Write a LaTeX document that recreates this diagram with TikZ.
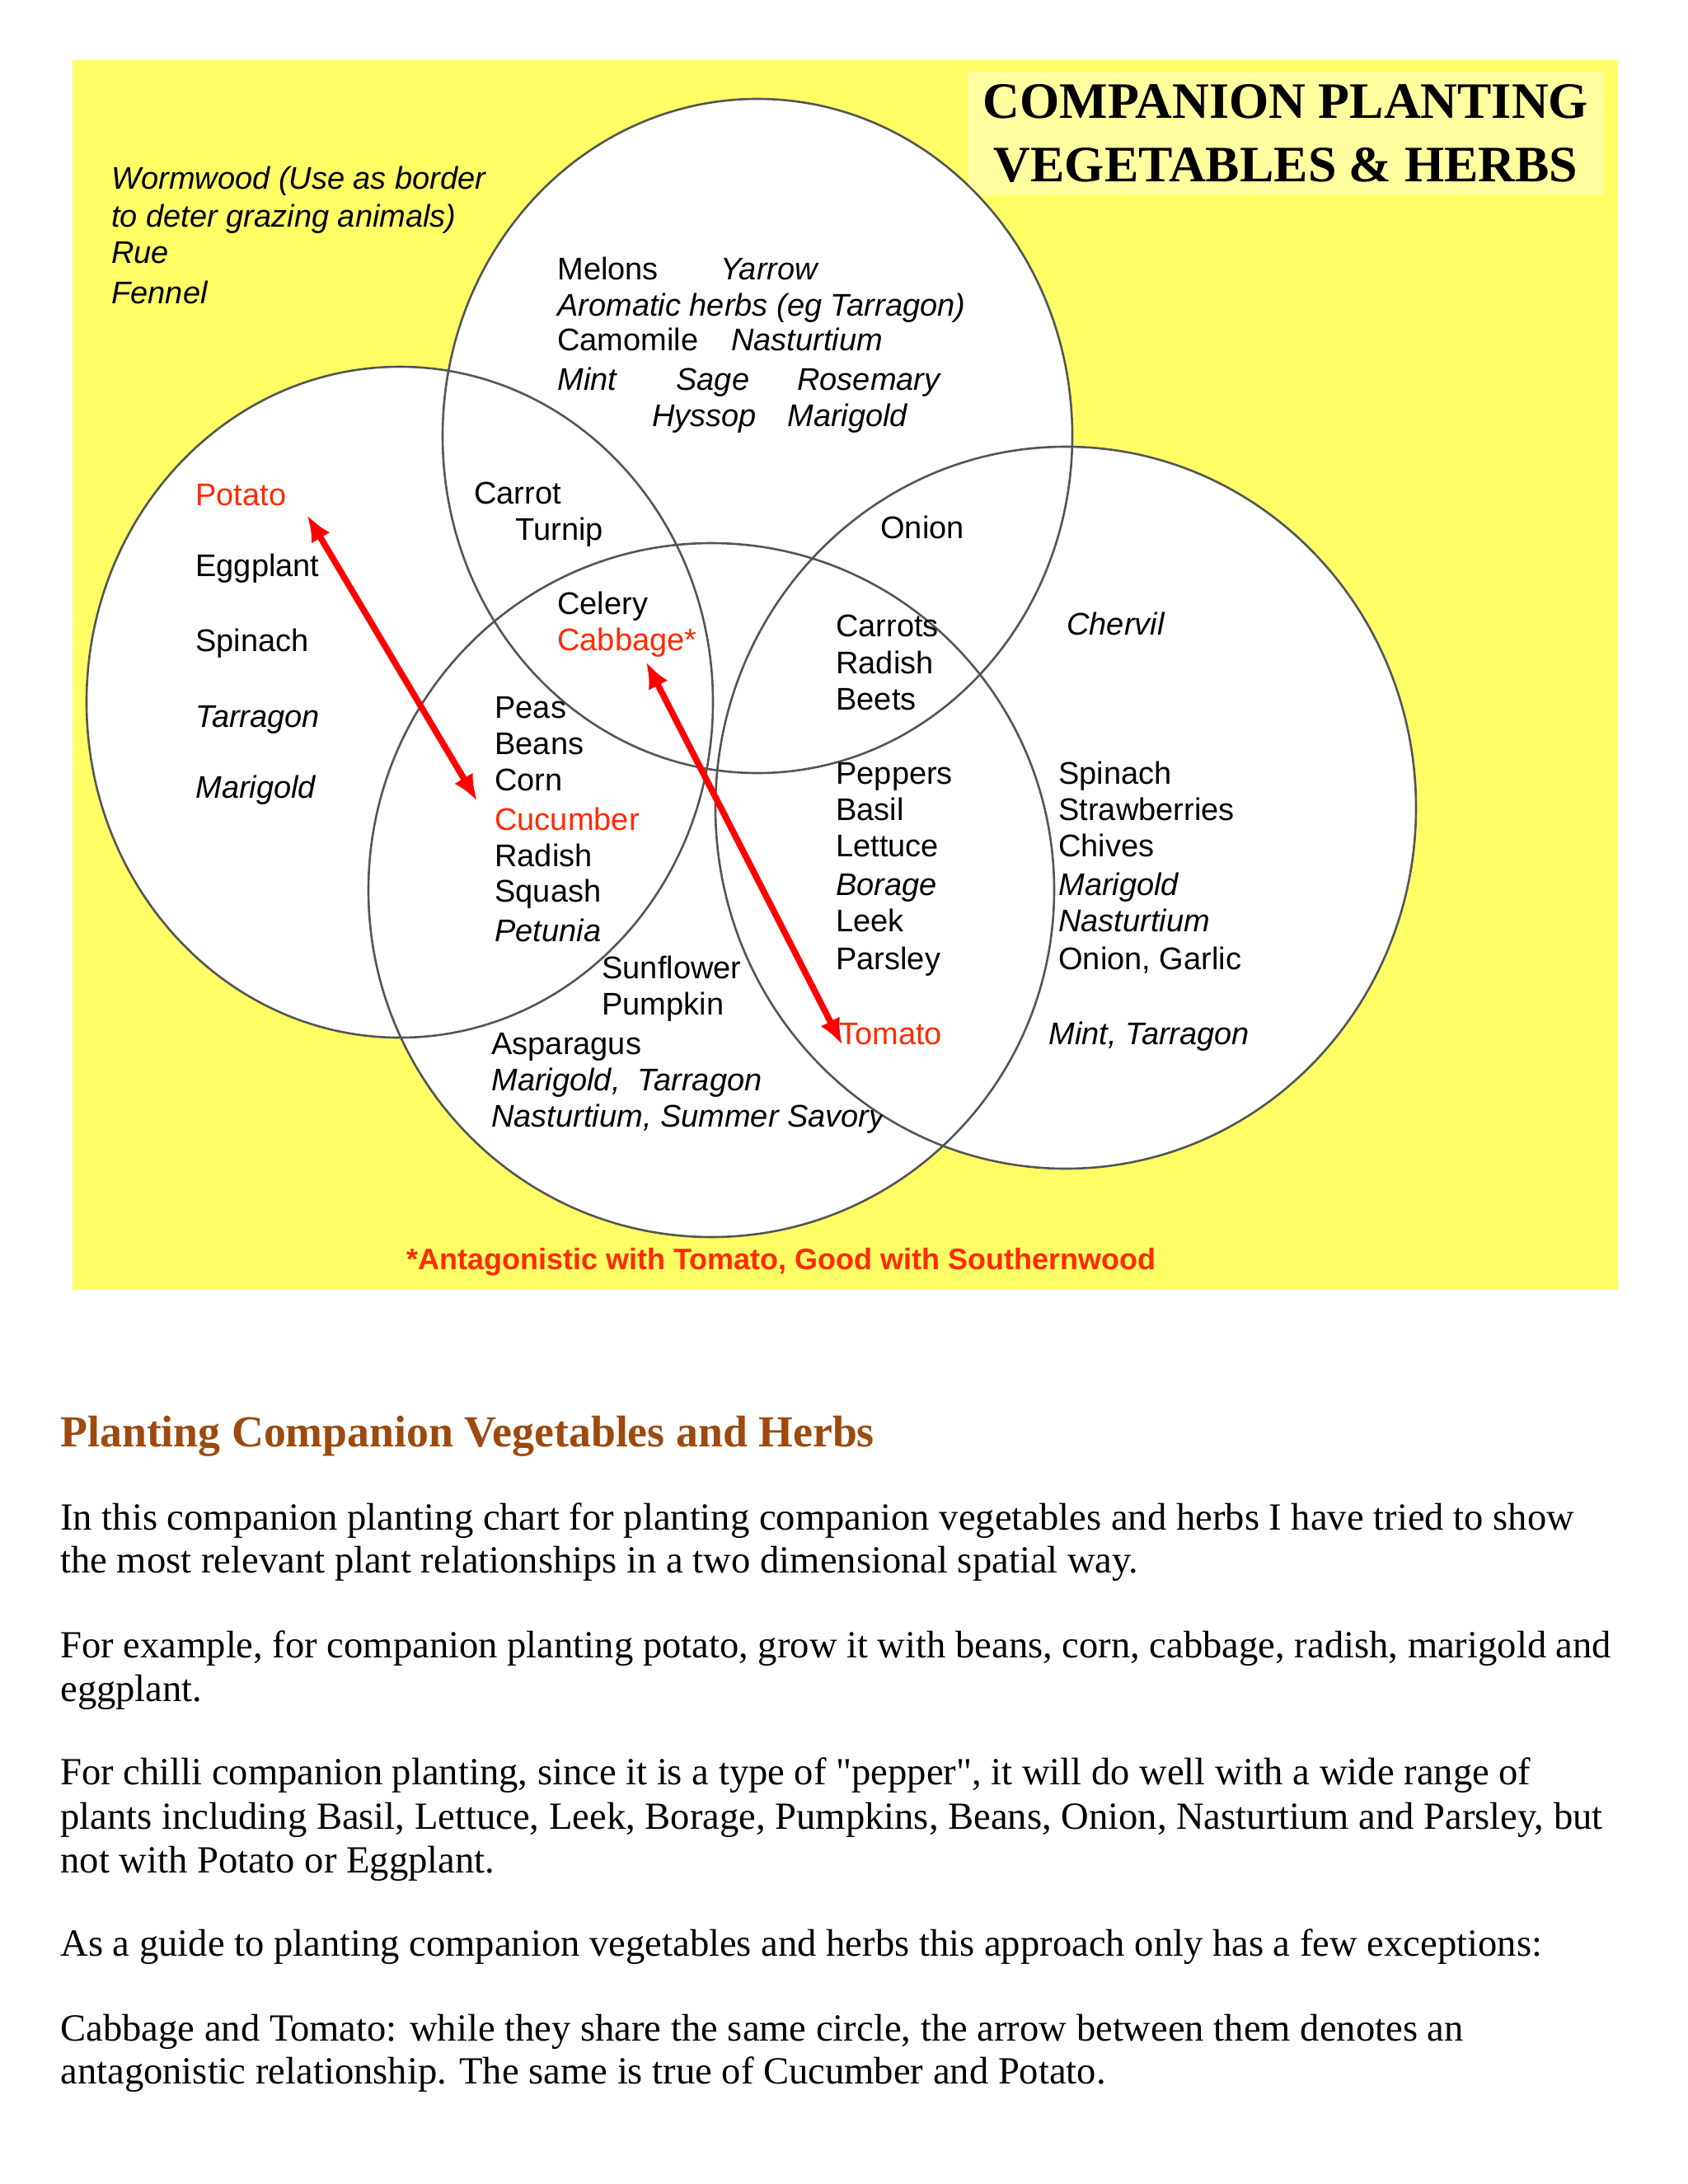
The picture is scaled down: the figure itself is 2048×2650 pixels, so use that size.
\documentclass[tikz,border=0pt]{standalone}
\usepackage{fontspec}
\setmainfont{Liberation Serif}[Ligatures=TeXOff]
\setsansfont{Liberation Sans}
\usetikzlibrary{arrows.meta,positioning,calc}
\definecolor{chartyellow}{HTML}{FFFF66}
\definecolor{titleyellow}{HTML}{FFFFA0}
\definecolor{rimgray}{HTML}{555555}
\definecolor{foered}{HTML}{FF2A00}
\definecolor{headbrown}{HTML}{9C4A0E}

\begin{document}
\begin{tikzpicture}[x=0.5pt, y=-0.5pt,
    ring/.style={draw=rimgray, line width=1.3pt},
    plant/.style={font=\sffamily\fontsize{19}{22}\selectfont, anchor=west, inner sep=0pt, text height=13.6pt, text depth=0pt},
    herb/.style={plant, font=\sffamily\itshape\fontsize{19}{22}\selectfont},
    foe/.style={plant, text=foered},
    clash/.style={{Latex[length=16pt,width=13pt]}-{Latex[length=16pt,width=13pt]}, red, line width=3.8pt},
    bodyline/.style={font=\fontsize{23.3}{26}\selectfont, anchor=base west, inner sep=0pt}
]
\useasboundingbox[fill=white] (0,0) rectangle (2048,2650);
\fill[chartyellow] (88,73) rectangle (1963,1565);
\node[fill=titleyellow, minimum width=386pt, minimum height=75pt, align=center,
      font=\bfseries\fontsize{31}{38.5}\selectfont] (title) at (1560,162)
      {COMPANION PLANTING\\VEGETABLES \& HERBS};

% the four circles
\fill[white] (919,529) ellipse [x radius=191pt, y radius=204.5pt];
\fill[white] (485,852) ellipse [x radius=190pt, y radius=203.5pt];
\fill[white] (863,1080) ellipse [x radius=208pt, y radius=210.5pt];
\fill[white] (1293,980) ellipse [x radius=212.5pt, y radius=219pt];
\draw[ring] (919,529) ellipse [x radius=191pt, y radius=204.5pt];
\draw[ring] (485,852) ellipse [x radius=190pt, y radius=203.5pt];
\draw[ring] (863,1080) ellipse [x radius=208pt, y radius=210.5pt];
\draw[ring] (1293,980) ellipse [x radius=212.5pt, y radius=219pt];

% outside the circles
\node[herb] (wormwood) at (135,216) {Wormwood (Use as border};
\node[herb] (deter) at (135,262) {to deter grazing animals)};
\node[herb] (rue) at (135,306) {Rue};
\node[herb] (fennel) at (135,355) {Fennel};

% top circle
\node[plant] (melons) at (676,326) {Melons};
\node[herb] (yarrow) at (874,326) {Yarrow};
\node[herb] (aromatic) at (676,370) {Aromatic herbs (eg Tarragon)};
\node[plant] (camomile) at (676,412) {Camomile};
\node[herb] (nastA) at (887,412) {Nasturtium};
\node[herb] (mintA) at (676,460) {Mint};
\node[herb] (sage) at (820,460) {Sage};
\node[herb] (rosemary) at (967,460) {Rosemary};
\node[herb] (hyssop) at (791,504) {Hyssop};
\node[herb] (marigoldA) at (955,504) {Marigold};
\node[plant] (carrot) at (575,598) {Carrot};
\node[plant] (turnip) at (625,642) {Turnip};
\node[plant] (onionA) at (1068,640) {Onion};

% centre
\node[plant] (celery) at (676,732) {Celery};
\node[foe] (cabbage) at (676,776) {Cabbage*};
\node[plant] (carrots) at (1014,759) {Carrots};
\node[plant] (radishA) at (1014,804) {Radish};
\node[plant] (beets) at (1014,848) {Beets};
\node[herb] (chervil) at (1294,757) {Chervil};

% left circle
\node[foe] (potato) at (237,600) {Potato};
\node[plant] (eggplant) at (237,686) {Eggplant};
\node[plant] (spinachA) at (237,777) {Spinach};
\node[herb] (tarragonA) at (237,869) {Tarragon};
\node[herb] (marigoldB) at (237,955) {Marigold};
\node[plant] (peas) at (600,858) {Peas};
\node[plant] (beans) at (600,902) {Beans};
\node[plant] (corn) at (600,946) {Corn};
\node[foe] (cucumber) at (600,994) {Cucumber};
\node[plant] (radishB) at (600,1038) {Radish};
\node[plant] (squash) at (600,1081) {Squash};
\node[herb] (petunia) at (600,1129) {Petunia};

% bottom and right circles
\node[plant] (peppers) at (1014,938) {Peppers};
\node[plant] (basil) at (1014,982) {Basil};
\node[plant] (lettuce) at (1014,1026) {Lettuce};
\node[herb] (borage) at (1014,1073) {Borage};
\node[plant] (leek) at (1014,1117) {Leek};
\node[plant] (parsley) at (1014,1163) {Parsley};
\node[foe] (tomato) at (1018,1254) {Tomato};
\node[plant] (spinachB) at (1284,938) {Spinach};
\node[plant] (strawberries) at (1284,982) {Strawberries};
\node[plant] (chives) at (1284,1026) {Chives};
\node[herb] (marigoldC) at (1284,1073) {Marigold};
\node[herb] (nastB) at (1284,1117) {Nasturtium};
\node[plant] (garlic) at (1284,1163) {Onion, Garlic};
\node[herb] (mintB) at (1272,1254) {Mint, Tarragon};
\node[plant] (sunflower) at (730,1174) {Sunflower};
\node[plant] (pumpkin) at (730,1218) {Pumpkin};
\node[plant] (asparagus) at (596,1266) {Asparagus};
\node[herb] (marigoldD) at (596,1310) {Marigold,\ \ Tarragon};
\begin{scope}[even odd rule]
  \clip (0,0) rectangle (2048,2650) (1293,980) ellipse [x radius=212.5pt, y radius=219pt];
  \node[herb] (savory) at (596,1354) {Nasturtium, Summer Savory};
\end{scope}

\node[font=\sffamily\bfseries\fontsize{18}{22}\selectfont, text=foered] (note) at (948,1531)
  {*Antagonistic with Tomato, Good with Southernwood};

% antagonistic pairs
\draw[clash] ([shift={(25,11)}]potato.south east) -- ([shift={(-21,-8)}]cucumber.north west);
\draw[clash] ([shift={(23,13)}]cabbage.south) -- ([shift={(4,0)}]tomato.south west);

% text below the chart
\node[font=\bfseries\fontsize{26.9}{32}\selectfont, text=headbrown, anchor=base west, inner sep=0pt]
  (heading) at (73,1755) {Planting Companion Vegetables and Herbs};
\node[bodyline] (p1a) at (73,1856) {In this companion planting chart for planting companion vegetables and herbs I have tried to show};
\node[bodyline] (p1b) at (73,1908) {the most relevant plant relationships in a two dimensional spatial way.};
\node[bodyline] (p2a) at (73,2011) {For example, for companion planting potato, grow it with beans, corn, cabbage, radish, marigold and};
\node[bodyline] (p2b) at (73,2064) {eggplant.};
\node[bodyline] (p3a) at (73,2165) {For chilli companion planting, since it is a type of "pepper", it will do well with a wide range of};
\node[bodyline] (p3b) at (73,2219) {plants including Basil, Lettuce, Leek, Borage, Pumpkins, Beans, Onion, Nasturtium and Parsley, but};
\node[bodyline] (p3c) at (73,2272) {not with Potato or Eggplant.};
\node[bodyline] (p4) at (73,2373) {As a guide to planting companion vegetables and herbs this approach only has a few exceptions:};
\node[bodyline] (p5a) at (73,2476) {Cabbage and Tomato: while they share the same circle, the arrow between them denotes an};
\node[bodyline] (p5b) at (73,2528) {antagonistic relationship. The same is true of Cucumber and Potato.};
\end{tikzpicture}
\end{document}
